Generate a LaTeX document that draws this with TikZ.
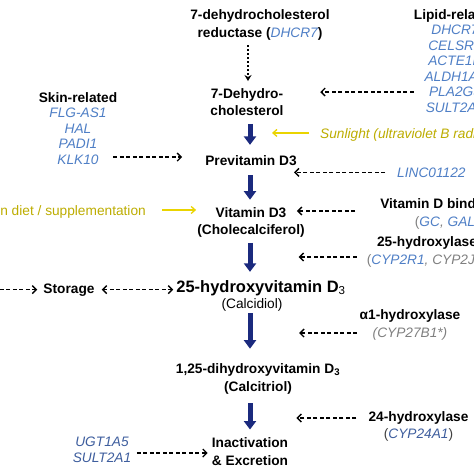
\documentclass[tikz,border=0pt]{standalone}
\usepackage{fontspec}
\setmainfont{Liberation Sans}
\usetikzlibrary{arrows.meta,calc}
\definecolor{gblue}{HTML}{4F7FC6}
\definecolor{dblue}{HTML}{3E5E9E}
\definecolor{ggray}{HTML}{808080}
\definecolor{navy}{HTML}{1B2A7E}
\definecolor{ytext}{HTML}{BDAD00}
\definecolor{yarrow}{HTML}{EAD400}
\begin{document}
\begin{tikzpicture}[x=1pt,y=-1pt,
  lab/.style={font=\fontsize{13.7}{17.5}\selectfont\bfseries, inner sep=0pt, align=center},
  big/.style={font=\fontsize{16.5}{19}\selectfont\bfseries, inner sep=0pt},
  plain/.style={font=\fontsize{13.7}{17.5}\selectfont, inner sep=0pt},
  glist/.style={font=\fontsize{13.7}{15.5}\selectfont\itshape, text=gblue, inner sep=0pt, align=center},
  ylab/.style={font=\fontsize{13.7}{17.5}\selectfont\itshape, text=ytext, inner sep=0pt},
  ylab2/.style={font=\fontsize{13.7}{17.5}\selectfont, text=ytext, inner sep=0pt},
  mainarrow/.style={draw=navy, line width=5pt, -{Triangle[width=12pt,length=8.5pt]}},
  dasharrow/.style={draw=black, line width=1.4pt, dash pattern=on 4pt off 2.5pt, -{Straight Barb[length=4pt,width=8pt]}},
  dashboth/.style={draw=black, line width=1.4pt, dash pattern=on 4pt off 2.5pt, {Straight Barb[length=4pt,width=8pt]}-{Straight Barb[length=4pt,width=8pt]}},
  dotarrow/.style={draw=black, line width=2pt, dash pattern=on 2pt off 2pt, -{Stealth[length=6pt,width=7pt]}},
  yarr/.style={draw=yarrow, line width=1.3pt, -{Straight Barb[length=4pt,width=7pt]}}
]
\useasboundingbox (0,0) rectangle (474,474);
\fill[white] (0,0) rectangle (474,474);
\clip (0,0) rectangle (474,474);

% main column
\coordinate (colx) at (250,0);
\node[lab] (dhcr) at (260,25) {7-dehydrocholesterol\\reductase ({\mdseries\itshape\color{gblue}DHCR7})};
\node[lab] (dhc7) at (247,102) {7-Dehydro-\\cholesterol};
\node[lab, anchor=base] (previt) at (251,165) {Previtamin D3};
\node[lab] (vitd3) at (251,222.5) {Vitamin D3\\(Cholecalciferol)};
\node[big, anchor=base] (hyd) at (261,292) {25-hydroxyvitamin D{\mdseries\textsubscript{3}}};
\node[plain, anchor=base] (calcidiol) at (252,308) {(Calcidiol)};
\node[lab] (calcitriol) at (258,379) {1,25-dihydroxyvitamin D{\textsubscript{3}}\\(Calcitriol)};
\node[lab] (inact) at (250,451.5) {Inactivation\\\& Excretion};

% left side
\node[glist] (skin) at (78,128.5) {{\upshape\bfseries\color{black}Skin-related}\\FLG-AS1\\HAL\\PADI1\\KLK10};
\node[ylab2, anchor=base east] (diet) at (146,215) {in diet / supplementation};
\node[lab, anchor=base] (storage) at (69,293) {Storage};
\node[glist, text=dblue] (ugt) at (102,450) {UGT1A5\\SULT2A1};

% right side
\node[glist] (lipid) at (455,61) {{\upshape\bfseries\color{black}Lipid-related}\\DHCR7\\CELSR2\\ACTE1P\\ALDH1A2\\PLA2G3\\SULT2A1};
\node[ylab, anchor=base west] (sun) at (320,138) {Sunlight (ultraviolet B radiation)};
\node[glist, anchor=base west] (linc) at (397,177) {LINC01122};
\node[lab] (vdbp) at (463.5,214) {Vitamin D binding protein\\{\mdseries\color{ggray}(}{\mdseries\itshape\color{gblue}GC}{\mdseries\itshape\color{ggray}, }{\mdseries\itshape\color{gblue}GALNT11}{\mdseries\color{ggray})}};
\node[lab] (h25) at (427,252) {25-hydroxylase\\{\mdseries\color{ggray}(}{\mdseries\itshape\color{gblue}CYP2R1}{\mdseries\itshape\color{ggray}, CYP2J2}{\mdseries\color{ggray})}};
\node[lab] (alpha) at (410,325) {α1-hydroxylase\\{\mdseries\itshape\color{ggray}(CYP27B1*)}};
\node[lab] (h24) at (418.5,426.5) {24-hydroxylase\\{\mdseries\color{darkgray}(}{\mdseries\itshape\color{dblue}CYP24A1}{\mdseries\color{darkgray})}};

% main arrows
\draw[mainarrow, shorten <=8pt, shorten >=10pt] (dhc7.south -| colx) -- (previt.north -| colx);
\draw[mainarrow, shorten <=10pt, shorten >=7.5pt] (previt.south -| colx) -- (vitd3.north -| colx);
\draw[mainarrow, shorten <=5pt, shorten >=8pt] (vitd3.south -| colx) -- (hyd.north -| colx);
\draw[mainarrow, shorten <=2pt, shorten >=15pt] (calcidiol.south -| colx) -- (calcitriol.north -| colx);
\draw[mainarrow, shorten <=9pt, shorten >=8pt] (calcitriol.south -| colx) -- (inact.north -| colx);

% dotted arrow
\draw[dotarrow] ($(dhcr.south -| dhc7.north)+(1,5)$) -- ($(dhc7.north)+(1,-7)$);

% yellow arrows
\coordinate (sunend) at ($(sun.west)+(-48,-1.5)$);
\draw[yarr] ($(sun.west)+(-11,-1.5)$) -- (sunend);
\draw[yarr] ($(diet.east)+(16,-1.5)$) -- ($(diet.east -| vitd3.west)+(-1,-1.5)$);

% dashed arrows
\draw[dasharrow] ($(previt.west -| skin.east)+(-4,-3)$) -- ($(previt.west)+(-23,-3)$);
\draw[dasharrow] ($(lipid.west |- dhc7.east)+(0,-10)$) -- ($(dhc7.east)+(36.5,-10)$);
\coordinate (lincend) at ($(linc.west)+(-103,0)$);
\draw[dasharrow] ($(linc.west)+(-12,0)$) -- (lincend);
\draw[dasharrow] ($(vdbp.west |- vitd3.east)+(-25,-11.5)$) -- ($(vitd3.east)+(-8,-11.5)$);
\coordinate (h25end) at ($(h25.west)+(-68,5)$);
\draw[dasharrow] ($(h25.west)+(-10,5)$) -- (h25end);
\coordinate (alphaend) at ($(alpha.west)+(-60.5,8)$);
\draw[dasharrow] ($(alpha.west)+(-2.5,8)$) -- (alphaend);
\coordinate (h24end) at ($(h24.west)+(-72,-8.5)$);
\draw[dasharrow] ($(h24.west)+(-12,-8.5)$) -- (h24end);
\coordinate (leftend) at ($(storage.west)+(-50,0)$);
\draw[dasharrow] (leftend) -- ($(storage.west)+(-6,0)$);
\draw[dashboth] ($(storage.east)+(7,0)$) -- ($(storage.east -| hyd.west)+(-3,0)$);
\draw[dasharrow] ($(ugt.east)+(5.5,3)$) -- ($(inact.west)+(-4,1.5)$);
\end{tikzpicture}
\end{document}
